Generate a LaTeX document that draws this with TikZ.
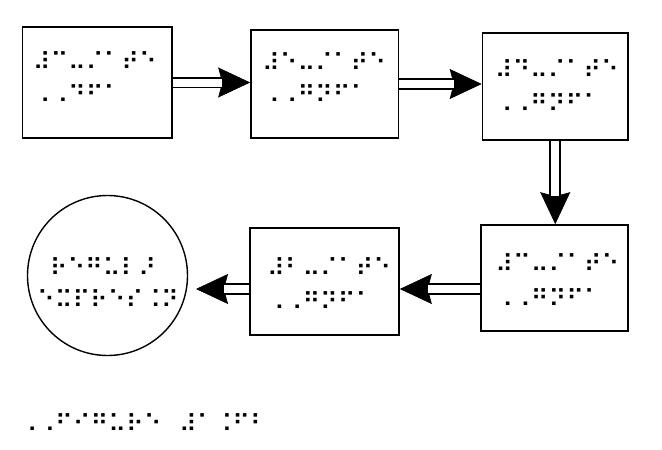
\documentclass[tikz,border=0pt]{standalone}
\usepackage{fontspec}
\newfontfamily\brl{DejaVu Sans}
\usetikzlibrary{arrows.meta}
\tikzset{
  box/.style={draw, line width=1.6pt, rectangle, inner sep=0pt},
  bt/.style={font=\brl\fontsize{24.2}{28}\selectfont, inner sep=0pt, anchor=base west},
  shaft/.style={double, double distance=8pt, line width=1.8pt, shorten >=28pt},
  tipx/.style={-{Stealth[length=32pt,width=30pt,inset=4pt]}, line width=0.6pt}
}
\begin{document}
\begin{tikzpicture}[x=1pt,y=-1pt]
\useasboundingbox (0,0) rectangle (662,450);
% boxes
\node[box, minimum width=149.5pt, minimum height=111pt] (b1) at (97.25,82.5) {};
\node[box, minimum width=147.5pt, minimum height=108pt] (b2) at (324.75,84) {};
\node[box, minimum width=145.5pt, minimum height=107pt] (b3) at (555.25,86.5) {};
\node[box, minimum width=147pt, minimum height=106pt] (b4) at (554.5,278) {};
\node[box, minimum width=149pt, minimum height=107pt] (b5) at (324.5,281.5) {};
\node[draw, circle, line width=1.4pt, minimum size=160pt, inner sep=0pt] (c) at (107.5,275.5) {};
% texts
\node[bt] (t1a) at (32.6,70.4) {⠼⠉⠤⠌⠁⠞⠑};
\node[bt] (t1b) at (32.6,103.7) {⠠⠠⠙⠋⠁};
\node[bt] (t2a) at (261.9,71.7) {⠼⠑⠤⠌⠁⠞⠑};
\node[bt] (t2b) at (261.9,103.7) {⠠⠠⠛⠝⠋⠁};
\node[bt] (t3a) at (494.6,78.4) {⠼⠙⠤⠌⠁⠞⠑};
\node[bt] (t3b) at (494.6,112.7) {⠠⠠⠛⠝⠋⠁};
\node[bt] (t4a) at (495.2,272.1) {⠼⠉⠤⠌⠁⠞⠑};
\node[bt] (t4b) at (495.2,307.7) {⠠⠠⠛⠝⠋⠁};
\node[bt] (t5a) at (266.9,276.9) {⠼⠃⠤⠌⠁⠞⠑};
\node[bt] (t5b) at (266.9,310.4) {⠠⠠⠛⠝⠋⠁};
\node[bt] (tca) at (49.6,276.1) {⠗⠑⠛⠥⠇⠜};
\node[bt] (tcb) at (36.9,308.7) {⠑⠭⠏⠗⠑⠎⠨⠝};
\node[bt] (cap) at (19.6,432.1) {⠠⠠⠋⠊⠛⠥⠗⠑⠀⠼⠁⠨⠋⠃};
% arrows
\coordinate (ce) at (196,289);
\draw[tipx] (b1.east) -- (b1.east -| b2.west);
\draw[shaft] (b1.east) -- (b1.east -| b2.west);
\draw[tipx] (b2.east) -- (b2.east -| b3.west);
\draw[shaft] (b2.east) -- (b2.east -| b3.west);
\draw[tipx] (b3.south) -- (b3.south |- b4.north);
\draw[shaft] (b3.south) -- (b3.south |- b4.north);
\draw[tipx] ([yshift=-11pt]b4.west) -- ([yshift=-11pt]b4.west -| b5.east);
\draw[shaft] ([yshift=-11pt]b4.west) -- ([yshift=-11pt]b4.west -| b5.east);
\draw[tipx] ([yshift=-7.5pt]b5.west) -- (ce);
\draw[shaft] ([yshift=-7.5pt]b5.west) -- (ce);
\end{tikzpicture}
\end{document}
